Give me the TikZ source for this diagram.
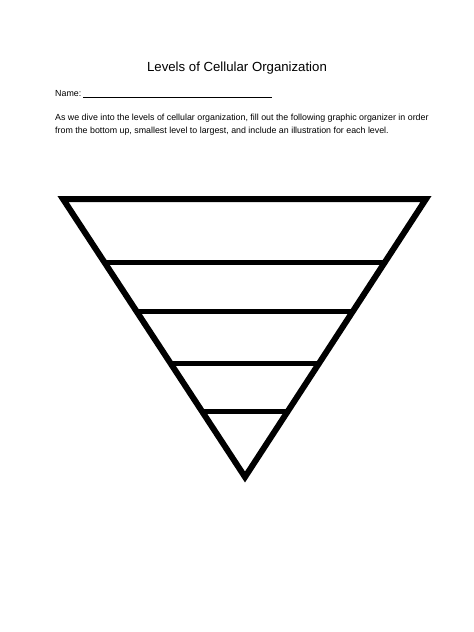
\documentclass[tikz,border=0pt]{standalone}
\usepackage{fontspec}
\setmainfont{Liberation Sans}
\usetikzlibrary{calc}
\begin{document}
\begin{tikzpicture}[x=1pt,y=-1pt,
  side/.style={line width=6pt,line join=miter,miter limit=20},
  bar/.style={line width=5pt},
  txt/.style={anchor=base west,inner sep=0pt,font=\fontsize{8.85}{10}\selectfont}]
\useasboundingbox (0,0) rectangle (474,632);
\node[anchor=base,inner sep=0pt,font=\fontsize{13.2}{15}\selectfont] (title) at (237,71) {Levels of Cellular Organization};
\node[txt] (name) at (55,96) {Name:};
\coordinate (u1) at (83,97);
\coordinate (u2) at (272,97);
\draw[line width=0.6pt] (u1) -- (u2);
\node[txt] (l1) at (55,120) {As we dive into the levels of cellular organization, fill out the following graphic organizer in order};
\node[txt] (l2) at (55,133) {from the bottom up, smallest level to largest, and include an illustration for each level.};
\coordinate (A) at (63,199);
\coordinate (B) at (426,199);
\coordinate (C) at (245,477);
\draw[side] (A) -- (B) -- (C) -- cycle;
\foreach \t/\n in {0.230/1,0.406/2,0.590/3,0.766/4}{
  \coordinate (L\n) at ($(A)!\t!(C)$);
  \coordinate (R\n) at ($(B)!\t!(C)$);
  \draw[bar] (L\n) -- (R\n);
}
\end{tikzpicture}
\end{document}
